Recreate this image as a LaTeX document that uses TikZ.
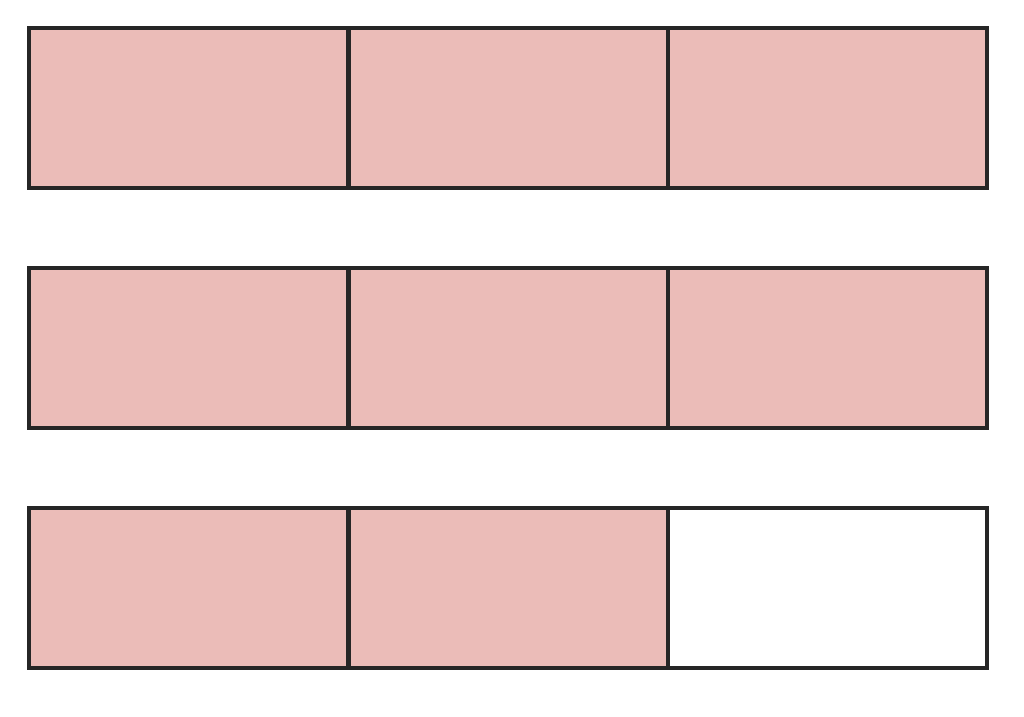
\documentclass[tikz,border=0pt]{standalone}
\begin{document}
\begin{tikzpicture}[x=1pt,y=-1pt,
  cell/.style={draw=black!85,line width=3.5pt,fill=#1,minimum width=319pt,minimum height=160pt,anchor=north west,inner sep=0pt,outer sep=0pt},
  cell/.default={pinkfill}]
\definecolor{pinkfill}{HTML}{EBBCB8}
\useasboundingbox (0,0) rectangle (1024,716);
\foreach \r/\y in {1/28,2/268,3/508}{
  \node[cell] (c\r a) at (29,\y) {};
  \node[cell] (c\r b) at (349,\y) {};
}
\node[cell] (c1c) at (668,28) {};
\node[cell] (c2c) at (668,268) {};
\node[cell=white] (c3c) at (668,508) {};
\end{tikzpicture}
\end{document}
